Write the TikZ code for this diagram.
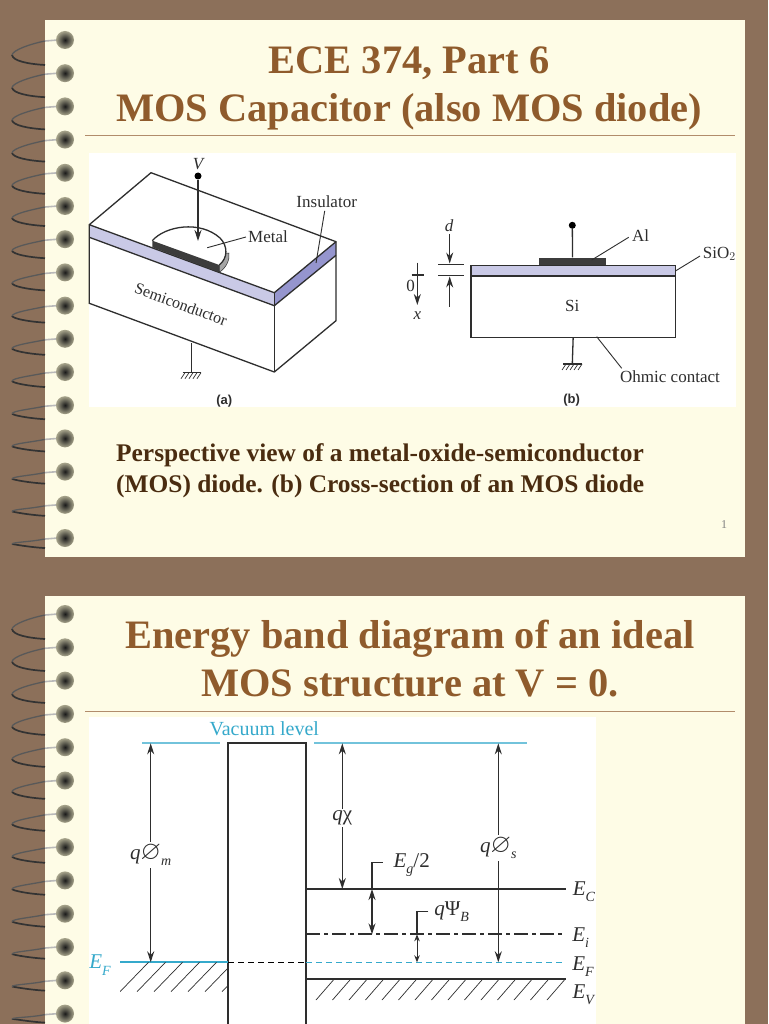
\documentclass[tikz,border=0pt]{standalone}
\usepackage{amssymb}
\usepackage{fontspec}
\setmainfont{Liberation Serif}
\newfontfamily\capfont{Liberation Sans}
\usetikzlibrary{arrows.meta, positioning}
\definecolor{deskbrown}{HTML}{8C705A}
\definecolor{slidecream}{HTML}{FEFCE6}
\definecolor{titlebrown}{HTML}{8F5B2C}
\definecolor{bodybrown}{HTML}{4A2C10}
\definecolor{ballbeige}{HTML}{A8A58C}
\definecolor{oxidelilac}{HTML}{C9C9E6}
\definecolor{oxideside}{HTML}{9595CE}
\definecolor{levelcyan}{HTML}{35A9CB}
\definecolor{metaldark}{HTML}{3C3C3C}
\definecolor{inkgray}{HTML}{2E2E2E}
\newcommand{\ringat}[2]{% y of the ball, depth of the loop
  \draw[black!80, line width=1.7pt] (45,#1+#2) .. controls (28,#1+#2-1) and (13,#1+#2-4) .. (12,#1+#2*0.6);
  \draw[black!65, line width=1.3pt] (12,#1+#2*0.6) .. controls (13,#1+#2*0.4) and (30,#1+4) .. (45,#1+1);
  \draw[gray!55, line width=1.6pt] (45,#1+1) -- (58,#1);
  \shade[inner color=black!90, outer color=ballbeige] (65,#1) circle (9);
}
\newcommand{\lowtext}[1]{\raisebox{-0.3em}{\fontsize{14}{14}\selectfont\textit{#1}}}
\newcommand{\slashzero}{\scalebox{1.25}{$\varnothing$}}
\tikzset{
  slide/.style={fill=slidecream, draw=none},
  whitepanel/.style={fill=white, draw=none},
  titletext/.style={text=titlebrown, font=\fontsize{40.4}{47.5}\selectfont\bfseries, align=center},
  bodytext/.style={text=bodybrown, font=\fontsize{25.4}{31}\selectfont\bfseries, align=left},
  label/.style={text=inkgray, font=\fontsize{17}{19}\selectfont, inner sep=0pt},
  mathlabel/.style={text=inkgray, font=\fontsize{21}{23}\selectfont, inner sep=0pt},
  caplabel/.style={text=inkgray, font=\capfont\fontsize{13}{15}\selectfont\bfseries, inner sep=0pt},
  edge/.style={draw=inkgray, line width=1.3pt},
  leader/.style={draw=inkgray, line width=0.9pt},
  pointer/.style={draw=inkgray, line width=1.2pt, -{Stealth[length=11pt,width=7pt]}},
  bothways/.style={draw=inkgray, line width=1.3pt, {Stealth[length=11pt,width=7pt]}-{Stealth[length=11pt,width=7pt]}},
  level/.style={draw=inkgray, line width=1.8pt},
  vacuum/.style={draw=levelcyan!70, line width=1.8pt},
  hatch/.style={draw=inkgray, line width=0.7pt},
  terminal/.style={circle, fill=black, inner sep=0pt, minimum size=7pt},
  gaplabel/.style={mathlabel, fill=white, inner sep=2pt},
}
\begin{document}
\begin{tikzpicture}[x=1pt,y=-1pt]
  \useasboundingbox (0,0) rectangle (768,1024);
  \fill[deskbrown] (0,0) rectangle (768,1024);

  % slides
  \fill[slide] (45,20) rectangle (745,557);
  \fill[slide] (45,596) rectangle (745,1024);
  \draw[titlebrown!70, line width=0.6pt] (85,135) -- (735,135);
  \draw[titlebrown!70, line width=0.6pt] (85,711) -- (735,711);
  \fill[whitepanel] (89,153) rectangle (736,407);
  \fill[whitepanel] (89,717) rectangle (596,1024);

  % rings
  \foreach \ry [evaluate=\ry as \rd using {25-0.03*(\ry-40)}] in {40,73.2,...,540} {\ringat{\ry}{\rd}}
  \foreach \ry [evaluate=\ry as \rd using {25-0.04*(\ry-614)}] in {614,647.3,...,1020} {\ringat{\ry}{\rd}}

  % titles
  \node[titletext] (title_a) at (409,88.5) {ECE 374, Part 6\\MOS Capacitor (also MOS diode)};
  \node[titletext] (title_b) at (410,658.5) {Energy band diagram of an ideal\\MOS structure at V = 0.};
  \node[bodytext, anchor=north west, inner sep=0pt] (caption) at (116,443) {Perspective view of a metal-oxide-semiconductor\\(MOS) diode. (b) Cross-section of an MOS diode};
  \node[text=gray, font=\fontsize{12}{14}\selectfont] (pageno) at (724,525) {1};

  % perspective view
  \coordinate (bk) at (151,172.7);
  \coordinate (lf) at (89.3,224.7);
  \coordinate (rt) at (336,241.7);
  \coordinate (fr) at (274.3,292.7);
  \coordinate (lf_i) at (89.3,237.3);
  \coordinate (fr_i) at (274.3,305.7);
  \coordinate (rt_i) at (336,255.3);
  \coordinate (lf_b) at (89.3,303.3);
  \coordinate (fr_b) at (274.3,372);
  \coordinate (rt_b) at (336,320.7);
  \fill[oxidelilac] (lf) -- (fr) -- (fr_i) -- (lf_i) -- cycle;
  \fill[oxideside] (fr) -- (rt) -- (rt_i) -- (fr_i) -- cycle;
  \draw[edge, line join=round] (lf) -- (bk) -- (rt) -- (fr) -- cycle;
  \draw[edge] (lf) -- (lf_b) -- (fr_b) -- (rt_b) -- (rt);
  \draw[edge] (lf_i) -- (fr_i) -- (rt_i);
  \draw[edge] (fr) -- (fr_b);
  % metal dot
  \coordinate (m_a) at (152.3,240.7);
  \coordinate (m_b) at (219.3,265);
  \coordinate (m_c) at (219.3,272.3);
  \coordinate (m_d) at (152.3,247.3);
  \fill[gray!70, draw=inkgray, line width=0.5pt] (m_b) -- (m_c) .. controls (226,268) and (230,260) .. (229,253) -- (225,253) -- cycle;
  \fill[white] (m_a) .. controls (165,226) and (200,220) .. (220,238) .. controls (228,246) and (228,258) .. (m_b) -- cycle;
  \draw[edge] (m_a) .. controls (165,226) and (200,220) .. (220,238) .. controls (228,246) and (228,258) .. (m_b);
  \fill[metaldark] (m_a) -- (m_b) -- (m_c) -- (m_d) -- cycle;
  \node[terminal] (v_dot) at (198,176) {};
  \coordinate (v_tip) at (198,241);
  \draw[pointer] (v_dot) -- (v_tip);
  \node[label, font=\fontsize{17}{19}\selectfont\itshape] (v_lbl) [above=2pt of v_dot] {V};
  \node[label] (metal_lbl) at (268,237) {Metal};
  \coordinate (metal_pt) at (207.3,247.7);
  \draw[leader] (metal_lbl.west) ++(-2,0) -- (metal_pt);
  \node[label] (insul_lbl) at (326.7,201.7) {Insulator};
  \coordinate (insul_pt) at (316,263);
  \draw[leader] (insul_lbl.south) ++(-2,3) -- (insul_pt);
  \node[label, font=\fontsize{16}{18}\selectfont, rotate=-20] (semi_lbl) at (181,304.3) {Semiconductor};
  \coordinate (gnd_a_top) at (191.7,343.3);
  \coordinate (gnd_a) at (191.7,372.7);
  \draw[edge] (gnd_a_top) -- (gnd_a);
  \draw[edge] (182.7,372.7) -- (200.7,372.7);
  \foreach \hx in {185,189,193,197,201} \draw[hatch] (\hx,372.7) -- ++(-4,6);
  \node[caplabel] (cap_a) at (224.3,400.7) {(a)};

  % cross section
  \node[fill=oxidelilac, draw=inkgray, line width=1.3pt, minimum width=204.4pt, minimum height=10.6pt, inner sep=0pt, anchor=north west] (oxide) at (470.3,264.7) {};
  \node[draw=inkgray, line width=1.3pt, minimum width=204.4pt, minimum height=61.4pt, inner sep=0pt, anchor=north west] (si) at (470.3,275.3) {};
  \node[label] (si_lbl) at (572.3,306) {Si};
  \node[fill=metaldark, minimum width=67.3pt, minimum height=7.4pt, inner sep=0pt, anchor=north west] (al) at (538.7,257.3) {};
  \node[terminal] (b_dot) at (572.3,225.3) {};
  \draw[edge] (b_dot) -- (al.north);
  \node[label] (al_lbl) at (640.7,236) {Al};
  \coordinate (al_pt) at (591.7,260);
  \draw[leader] (628.7,237.3) -- (al_pt);
  \node[label] (sio_lbl) at (719.3,254) {SiO$_2$};
  \draw[leader] (700,256) -- (oxide.east);
  \node[label, font=\fontsize{17}{19}\selectfont\itshape] (d_lbl) at (449,226) {d};
  \coordinate (d_top) at (449.7,234);
  \coordinate (d_bot) at (449.7,306.7);
  \draw[pointer] (d_top) -- (449.7,263.5);
  \draw[pointer] (d_bot) -- (449.7,276.5);
  \draw[edge] (438.3,264.7) -- (464,264.7);
  \draw[edge] (438.3,275.3) -- (464,275.3);
  \draw[pointer] (417.3,262.7) -- (417.3,305);
  \draw[edge] (411.7,275) -- (424.3,275);
  \node[label] (zero_lbl) at (410.7,286) {0};
  \node[label, font=\fontsize{17}{19}\selectfont\itshape] (x_lbl) at (417.3,316) {x};
  \coordinate (gnd_b) at (572.3,364);
  \draw[edge] (si.south) -- (gnd_b);
  \draw[edge] (563.3,364) -- (581.7,364);
  \foreach \hx in {566,570,574,578,582} \draw[hatch] (\hx,364) -- ++(-4,6);
  \node[label] (ohm_lbl) at (670,376.7) {Ohmic contact};
  \draw[leader] (596.7,336.7) -- (621.7,368.3);
  \node[caplabel] (cap_b) at (571.7,400) {(b)};

  % band diagram
  \draw[vacuum] (142.3,743.3) -- (220,743.3);
  \draw[vacuum] (314,743.3) -- (526.7,743.3);
  \node[text=levelcyan, font=\fontsize{20}{22}\selectfont, inner sep=0pt] (vac_lbl) at (264.3,728.3) {Vacuum level};
  \draw[edge, line width=1.8pt] (228.3,1030) -- (228.3,743.3) -- (306.3,743.3) -- (306.3,1030);
  % levels
  \draw[level] (306.3,889) -- (566,889);
  \draw[level, dash pattern=on 14pt off 4pt on 4pt off 4pt] (306.3,934.3) -- (566,934.3);
  \draw[level] (306.3,979.3) -- (566,979.3);
  \draw[levelcyan, line width=1.2pt, dash pattern=on 6pt off 4pt] (306.3,962.3) -- (566,962.3);
  \draw[levelcyan, line width=2pt] (120,962.3) -- (228.3,962.3);
  \draw[black, line width=1.2pt, dash pattern=on 6pt off 4pt] (228.3,962.3) -- (306.3,962.3);
  \begin{scope}
    \clip (120,962.3) rectangle (227.5,992);
    \foreach \hx in {120,137,...,222} \draw[hatch] (\hx,991.7) -- ++(28.5,-29.4);
  \end{scope}
  \foreach \hx in {316,332.5,...,549} \draw[hatch] (\hx,1000) -- ++(18,-20.7);
  % arrows
  \draw[bothways] (150.7,743.3) -- (150.7,962.3);
  \node[gaplabel] (phim_lbl) at (150.7,855) {\textit{q}\slashzero\lowtext{m}};
  \draw[bothways] (342.3,743.3) -- (342.3,889);
  \node[gaplabel] (chi_lbl) at (342.3,817.7) {\textit{q}χ};
  \draw[bothways] (498.3,743.3) -- (498.3,962.3);
  \node[gaplabel] (phis_lbl) at (498.3,847.7) {\textit{q}\slashzero\lowtext{s}};
  \draw[bothways] (372,889) -- (372,934.3);
  \draw[edge] (382.7,862.7) -- (372,862.7) -- (372,889);
  \node[mathlabel] (eg_lbl) at (411.7,865) {\textit{E}\lowtext{g}/2};
  \draw[draw=inkgray, line width=1pt, {Stealth[length=7pt,width=5.5pt]}-{Stealth[length=7pt,width=5.5pt]}] (417,934.3) -- (417,962.3);
  \draw[edge] (428.3,911.7) -- (417,911.7) -- (417,934.3);
  \node[mathlabel] (psi_lbl) at (451.7,911.7) {\textit{q}Ψ\lowtext{B}};
  \node[mathlabel] (ec_lbl) at (584,891.7) {\textit{E}\lowtext{C}};
  \node[mathlabel] (ei_lbl) at (580.7,937.7) {\textit{E}\lowtext{i}};
  \node[mathlabel] (ef_lbl) at (583,966.7) {\textit{E}\lowtext{F}};
  \node[mathlabel] (ev_lbl) at (584,995) {\textit{E}\lowtext{V}};
  \node[mathlabel, text=levelcyan] (efl_lbl) at (100,965) {\textit{E}\lowtext{F}};
\end{tikzpicture}
\end{document}
